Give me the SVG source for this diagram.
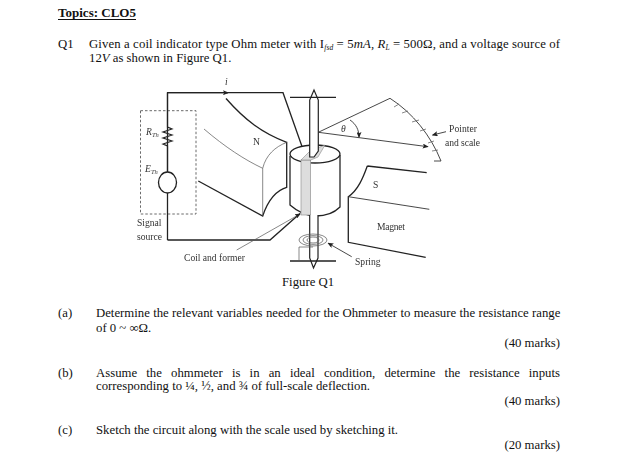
<svg xmlns="http://www.w3.org/2000/svg" width="619" height="473" viewBox="0 0 619 473">
<style>
.t{font-family:"Liberation Serif","Times New Roman",serif;font-size:12.75px;fill:#111}
.f{font-family:"Liberation Serif","Times New Roman",serif;font-size:9.6px;fill:#333}
.i{font-style:italic}
.k{fill:none;stroke:#222;stroke-width:1.3}
.n{fill:none;stroke:#555;stroke-width:.7}
.m{fill:none;stroke:#333;stroke-width:.9}
</style>
<defs>
<filter id="b" x="-5%" y="-5%" width="110%" height="110%"><feGaussianBlur stdDeviation="0.35"/></filter>
<marker id="a" markerWidth="6" markerHeight="5" refX="5" refY="2.5" orient="auto" markerUnits="userSpaceOnUse"><path d="M0 0L6 2.5L0 5L1.2 2.5Z" fill="#222"/></marker>
</defs>
<rect width="619" height="473" fill="#fff"/>

<g id="header">
<text class="t" x="58" y="16.7" font-weight="bold" textLength="78" lengthAdjust="spacingAndGlyphs">Topics: CLO5</text>
<rect x="58" y="19" width="78" height="1" fill="#111"/>
<text class="t" x="58" y="47.7">Q1</text>
<text class="t" x="89" y="47.7" textLength="471">Given a coil indicator type Ohm meter with I<tspan font-size="7.5" dy="2" class="i">fsd</tspan><tspan dy="-2"> = 5</tspan><tspan class="i">mA</tspan>, <tspan class="i">R</tspan><tspan font-size="7.5" dy="2" class="i">L</tspan><tspan dy="-2"> = 500Ω, and a voltage source of</tspan></text>
<text class="t" x="89" y="62">12<tspan class="i">V</tspan> as shown in Figure Q1.</text>
</g>

<g id="figure" filter="url(#b)">
<g id="connectors">
<path class="k" d="M167.5 240V92.7H283L305 155"/>
<path class="k" d="M167.5 92.7H228" marker-end="url(#a)"/>
<path class="k" d="M167.5 240H270L300 213.5"/>
<path class="n" d="M236.7 250L300 214" marker-end="url(#a)"/>
<path class="m" d="M351.7 256.7L328.3 243.3" marker-end="url(#a)"/>
<path class="m" d="M446 131.7L432.7 135" marker-end="url(#a)"/>
</g>
<text class="f i" x="225" y="85">i</text>
<g id="signal-source">
<rect x="140.5" y="110.7" width="55.5" height="103.3" fill="none" stroke="#444" stroke-width=".8" stroke-dasharray="2.5 2"/>
<path d="M167.5 92.7V127L172 129L163 132L172 135L163 138L172 141L163 144L167.5 146V173" fill="none" stroke="#222" stroke-width="1.2"/>
<ellipse cx="167.5" cy="182.5" rx="9" ry="10.5" fill="#fff" stroke="#222" stroke-width="1.3"/>
<text class="f i" x="146" y="135">R<tspan font-size="6.5" dy="1.5">Th</tspan></text>
<text class="f i" x="145" y="172">E<tspan font-size="6.5" dy="1.5">Th</tspan></text>
<text class="f" x="137" y="226">Signal</text>
<text class="f" x="137" y="240">source</text>
</g>
<g id="magnet-n">
<path class="k" d="M226 98.5C245 120 262 133 286.7 142.3V187.3C274 191 267 203 262.7 216L198.3 181"/>
<path class="n" d="M204 129C225 147 245 160 262.7 168.3V216M262.7 168.3C266 155 275 147 286.7 142.3"/>
<text class="f" x="253" y="145">N</text>
</g>
<g id="shaft-coil">
<path class="k" d="M290 156V205C298 212 306 216 316 216C327 216 335 212 340 207V155"/>
<ellipse cx="315" cy="154" rx="25" ry="9" fill="#fff" stroke="#222" stroke-width="1.3"/>
<rect x="301" y="160" width="9.7" height="55" fill="#ddd" stroke="#888" stroke-width=".6"/>
<path d="M301 160L310 151L325 145L318 157L310.7 160Z" fill="#ddd" stroke="#777" stroke-width=".5"/>
<path d="M309.7 157V100L314 90L318.3 100V151L314 157ZM309.7 215V258L313.5 268L318 258V215" fill="#fff" stroke="#222" stroke-width="1.2"/>
<path class="k" d="M290 97.3H336M290 261H336"/>
<g fill="none" stroke="#555" stroke-width=".7"><ellipse cx="313" cy="240" rx="14" ry="6"/><ellipse cx="313" cy="240" rx="10" ry="4.4"/><ellipse cx="313" cy="240" rx="6" ry="3"/></g>
<path class="n" d="M313 247H299V260"/>
<text class="f" x="184" y="261" textLength="61">Coil and former</text>
<text class="f" x="355" y="265">Spring</text>
</g>
<g id="pointer-scale">
<path class="m" d="M318.3 132.3L390 98.3C413 113 431 136 441 161H434"/>
<path class="m" d="M318.3 132.3L427.7 146.7" marker-end="url(#a)"/>
<path class="m" d="M350 120C356 124 359 130 359 137" marker-end="url(#a)"/>
<path class="n" d="M399 104L394 107M408 111L402 113M419 120L412 122M426 129L420 131M434 141L428 143M438 150L432 151"/>
<text class="f i" x="341" y="132">θ</text>
<text class="f" x="449" y="132" textLength="28">Pointer</text>
<text class="f" x="445" y="146" textLength="35">and scale</text>
</g>
<g id="magnet-s">
<path class="k" d="M367.3 166L426.7 172.7M367.3 166C363 178 358 190 348.3 196.7V242.3L425.7 257.3"/>
<path class="m" d="M348.3 196.7L429.3 209.3"/>
<text class="f" x="373" y="188">S</text>
<text class="f" x="377" y="230" textLength="28">Magnet</text>
</g>
</g>

<g id="questions">
<text class="t" x="282" y="286">Figure Q1</text>
<text class="t" x="58" y="316.7">(a)</text>
<text class="t" x="96" y="316.7" word-spacing="0.17">Determine the relevant variables needed for the Ohmmeter to measure the resistance range</text>
<text class="t" x="96" y="331.7">of 0 ~ ∞Ω.</text>
<text class="t" x="560" y="346.7" text-anchor="end">(40 marks)</text>
<text class="t" x="58" y="376.7">(b)</text>
<text class="t" x="96" y="376.7" word-spacing="6">Assume the ohmmeter is in an ideal condition, determine the resistance inputs</text>
<text class="t" x="96" y="390">corresponding to ¼, ½, and ¾ of full-scale deflection.</text>
<text class="t" x="560" y="405" text-anchor="end">(40 marks)</text>
<text class="t" x="58" y="434">(c)</text>
<text class="t" x="96" y="434">Sketch the circuit along with the scale used by sketching it.</text>
<text class="t" x="560" y="449" text-anchor="end">(20 marks)</text>
</g>
</svg>
